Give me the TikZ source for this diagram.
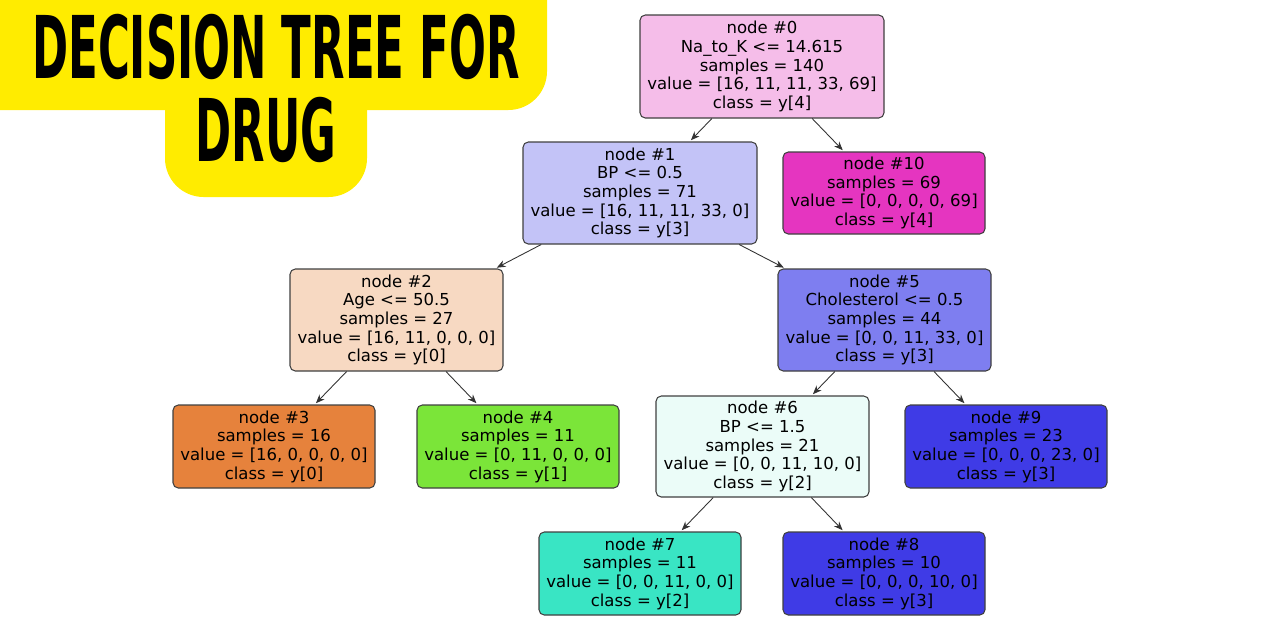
\documentclass[tikz,border=0pt]{standalone}
\usepackage{fontspec}
\usepackage{graphicx}
\setmainfont{DejaVu Sans}
\newfontfamily\titlefont{DejaVu Sans Condensed Bold}
\usetikzlibrary{arrows.meta}
\definecolor{c0}{HTML}{F5BDE9}
\definecolor{c1}{HTML}{C3C3F7}
\definecolor{c10}{HTML}{E535C0}
\definecolor{c2}{HTML}{F7D9C2}
\definecolor{c5}{HTML}{7E7EF0}
\definecolor{c3}{HTML}{E6823C}
\definecolor{c4}{HTML}{7BE539}
\definecolor{c6}{HTML}{EBFCF8}
\definecolor{c9}{HTML}{3F3BE6}
\definecolor{c7}{HTML}{39E5C4}
\definecolor{ttl}{HTML}{FFEC00}
\tikzset{
  tn/.style={draw=black!75, line width=0.6pt, rounded corners=3pt, align=center,
    font=\fontsize{9.4pt}{10.6pt}\selectfont, inner sep=2pt},
  ar/.style={-{Stealth[length=5pt,width=4pt]}, draw=black!80, line width=0.5pt}
}
\begin{document}
\begin{tikzpicture}[x=0.02cm,y=-0.02cm]
\useasboundingbox (0,0) rectangle (1280,640);
% title background
\fill[ttl, rounded corners=22pt] (-40,-40) rectangle (547,110);
\fill[ttl, rounded corners=22pt] (165,60) rectangle (367,197);
\fill[ttl] (165,60) rectangle (367,110);
\node (t1) at (276,47) {\scalebox{0.625}[1.12]{\titlefont\fontsize{44pt}{44pt}\selectfont DECISION TREE FOR}};
\node (t2) at (266,130) {\scalebox{0.625}[1.12]{\titlefont\fontsize{44pt}{44pt}\selectfont DRUG}};
% tree nodes
\node[tn, fill=c0, minimum width=244*0.02cm, minimum height=103*0.02cm] (n0) at (762,66.5) {node \#0\\Na\_to\_K <= 14.615\\samples = 140\\value = [16, 11, 11, 33, 69]\\class = y[4]};
\node[tn, fill=c1, minimum width=234*0.02cm, minimum height=102*0.02cm] (n1) at (640,193) {node \#1\\BP <= 0.5\\samples = 71\\value = [16, 11, 11, 33, 0]\\class = y[3]};
\node[tn, fill=c10, minimum width=202*0.02cm, minimum height=82*0.02cm] (n10) at (884,193) {node \#10\\samples = 69\\value = [0, 0, 0, 0, 69]\\class = y[4]};
\node[tn, fill=c2, minimum width=213*0.02cm, minimum height=102*0.02cm] (n2) at (396.5,320) {node \#2\\Age <= 50.5\\samples = 27\\value = [16, 11, 0, 0, 0]\\class = y[0]};
\node[tn, fill=c5, minimum width=213*0.02cm, minimum height=102*0.02cm] (n5) at (884.5,320) {node \#5\\Cholesterol <= 0.5\\samples = 44\\value = [0, 0, 11, 33, 0]\\class = y[3]};
\node[tn, fill=c3, minimum width=202*0.02cm, minimum height=83*0.02cm] (n3) at (274,446.5) {node \#3\\samples = 16\\value = [16, 0, 0, 0, 0]\\class = y[0]};
\node[tn, fill=c4, minimum width=202*0.02cm, minimum height=83*0.02cm] (n4) at (518,446.5) {node \#4\\samples = 11\\value = [0, 11, 0, 0, 0]\\class = y[1]};
\node[tn, fill=c6, minimum width=213*0.02cm, minimum height=101*0.02cm] (n6) at (762.5,446.5) {node \#6\\BP <= 1.5\\samples = 21\\value = [0, 0, 11, 10, 0]\\class = y[2]};
\node[tn, fill=c9, minimum width=202*0.02cm, minimum height=83*0.02cm] (n9) at (1006,446.5) {node \#9\\samples = 23\\value = [0, 0, 0, 23, 0]\\class = y[3]};
\node[tn, fill=c7, minimum width=202*0.02cm, minimum height=83*0.02cm] (n7) at (640,573.5) {node \#7\\samples = 11\\value = [0, 0, 11, 0, 0]\\class = y[2]};
\node[tn, fill=c9, minimum width=202*0.02cm, minimum height=83*0.02cm] (n8) at (884,573.5) {node \#8\\samples = 10\\value = [0, 0, 0, 10, 0]\\class = y[3]};
% edges
\foreach \a/\b in {n0/n1,n0/n10,n1/n2,n1/n5,n2/n3,n2/n4,n5/n6,n5/n9,n6/n7,n6/n8}
  \draw[ar, shorten <=0pt, shorten >=1pt] (\a) -- (\b);
\end{tikzpicture}
\end{document}
